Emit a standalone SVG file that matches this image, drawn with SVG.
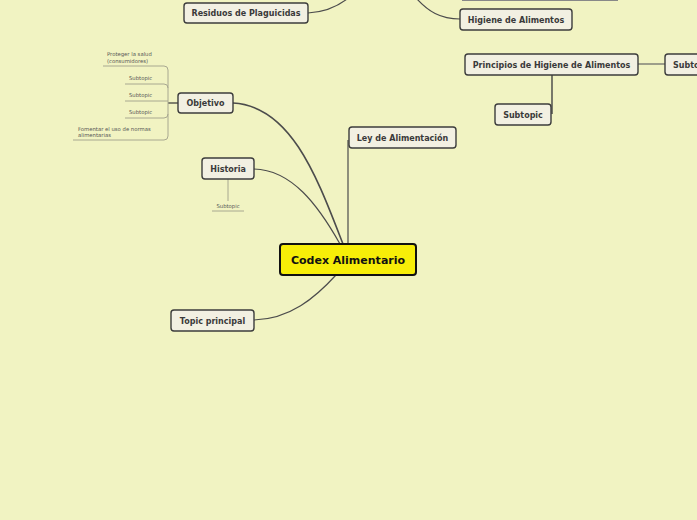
<svg xmlns="http://www.w3.org/2000/svg" width="697" height="520" viewBox="0 0 697 520">
<style>
.node rect{fill:#f2f0e2;stroke:#3c3c3c;stroke-width:1.4}
.node text{font-family:"DejaVu Sans",Verdana,sans-serif;font-weight:bold;font-size:8px;fill:#3a3a3a;text-anchor:middle;dominant-baseline:central}
.conn path,.conn line{fill:none;stroke:#4c4c4c;stroke-width:1.2}
.sub path,.sub line{fill:none;stroke:#a8a890;stroke-width:1}
.small{font-family:"DejaVu Sans",Verdana,sans-serif;font-size:5.3px;fill:#555}
</style>
<rect width="697" height="520" fill="#f1f3c2"/>
<g id="connectors" class="conn">
<path d="M343,244 C318,180 292,106 233,103" style="stroke-width:1.6"/>
<path d="M340,244 C318,205 292,170 254,169"/>
<line x1="348" y1="244" x2="348" y2="140"/>
<path d="M336,275 C315,298 290,319 254,320"/>
<path d="M308,13 C325,12 338,6 347,-1"/>
<path d="M460,19 C440,19 428,11 417,-1"/>
<line x1="462" y1="0.5" x2="618" y2="0.5" style="stroke:#888"/>
<line x1="638" y1="64" x2="665" y2="64" style="stroke:#666"/>
<line x1="552" y1="75" x2="552" y2="114" style="stroke:#444;stroke-width:1.4"/>
<line x1="168" y1="103" x2="178" y2="103" style="stroke:#333;stroke-width:1.2"/>
</g>
<g id="objetivo-subtopics" class="sub">
<path d="M103,66 H164 Q168,66 168,70 V136 Q168,140 164,140 H73"/>
<path d="M125,84 H164 Q168,84 168,88"/>
<path d="M125,101 H168"/>
<path d="M125,118 H164 Q168,118 168,114"/>
<line x1="228" y1="179" x2="228" y2="201"/>
<line x1="212" y1="211" x2="244" y2="211"/>
</g>
<g id="objetivo-subtopic-texts">
<text class="small" x="107" y="56">Proteger la salud</text>
<text class="small" x="107" y="63">(consumidores)</text>
<text class="small" x="129" y="80">Subtopic</text>
<text class="small" x="129" y="97">Subtopic</text>
<text class="small" x="129" y="114">Subtopic</text>
<text class="small" x="78" y="131">Fomentar el uso de normas</text>
<text class="small" x="78" y="137">alimentarias</text>
<text class="small" x="228" y="208" text-anchor="middle">Subtopic</text>
</g>
<g id="codex" class="node">
<rect x="280" y="244" width="136" height="31" rx="3" style="fill:#f7ee08;stroke:#111;stroke-width:2"/>
<text x="348" y="260.5" style="font-size:11px;fill:#111">Codex Alimentario</text>
</g>
<g id="residuos" class="node"><rect x="184" y="3" width="124" height="20" rx="3"/><text x="246" y="13.5">Residuos de Plaguicidas</text></g>
<g id="higiene" class="node"><rect x="460" y="9" width="112" height="21" rx="3"/><text x="516" y="20">Higiene de Alimentos</text></g>
<g id="principios" class="node"><rect x="465" y="54" width="173" height="21" rx="3"/><text x="551.5" y="65">Principios de Higiene de Alimentos</text></g>
<g id="subtopic-right" class="node"><rect x="665" y="54" width="70" height="21" rx="3"/><text x="673" y="65" style="text-anchor:start">Subtopic</text></g>
<g id="subtopic-principios" class="node"><rect x="495" y="104" width="56" height="21" rx="3"/><text x="523" y="115">Subtopic</text></g>
<g id="objetivo" class="node"><rect x="178" y="93" width="55" height="20" rx="3"/><text x="205.5" y="103.5">Objetivo</text></g>
<g id="ley" class="node"><rect x="349" y="127" width="107" height="21" rx="3"/><text x="402.5" y="138">Ley de Alimentación</text></g>
<g id="historia" class="node"><rect x="202" y="158" width="52" height="21" rx="3"/><text x="228" y="169">Historia</text></g>
<g id="topic-principal" class="node"><rect x="171" y="310" width="83" height="21" rx="3"/><text x="212.5" y="321">Topic principal</text></g>
</svg>
